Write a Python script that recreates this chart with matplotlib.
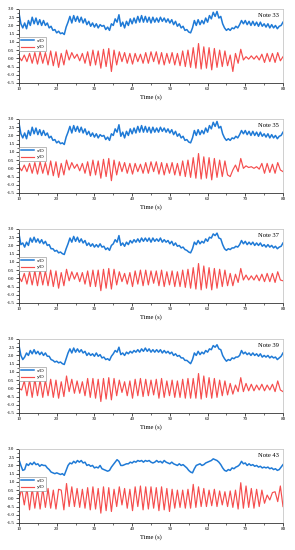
import numpy as np
import matplotlib.pyplot as plt
from matplotlib.ticker import MultipleLocator

plt.rcParams['font.family'] = ['Liberation Serif', 'DejaVu Serif']

notes = ['Note 33', 'Note 35', 'Note 37', 'Note 39', 'Note 43']

# x/D, sampled every 0.5 s from 10 s to 80 s
xd_33 = [2.75, 2.1, 1.85, 2.15, 1.8, 2.3, 2.0, 2.5, 2.1, 2.45, 2.05, 2.35, 2.0, 2.3, 2.0, 2.15,
         1.85, 1.95, 1.7, 1.75, 1.55, 1.65, 1.5, 1.55, 1.45, 1.9, 2.2, 2.55, 2.15, 2.6, 2.25, 2.55,
         2.2, 2.5, 2.15, 2.4, 2.05, 2.25, 1.95, 2.15, 1.9, 2.1, 1.85, 2.05, 1.95, 2.0, 1.75, 1.9,
         1.7, 2.1, 2.0, 2.4, 2.2, 2.65, 1.95, 2.2, 1.85, 2.25, 2.0, 2.4, 2.1, 2.45, 2.15, 2.55,
         2.2, 2.6, 2.2, 2.55, 2.2, 2.5, 2.15, 2.5, 2.2, 2.45, 2.2, 2.5, 2.25, 2.45, 2.2, 2.4,
         2.15, 2.35, 2.05, 2.25, 1.95, 2.1, 1.85, 1.95, 1.7, 1.75, 1.6, 1.55, 1.85, 2.3, 2.0, 2.35,
         2.05, 2.3, 2.1, 2.45, 2.2, 2.6, 2.4, 2.8, 2.55, 2.85, 2.45, 2.55, 2.1, 1.85, 1.7, 1.8,
         1.7, 1.85, 1.8, 1.95, 1.85, 2.05, 2.3, 2.1, 2.3, 2.05, 2.25, 2.0, 2.25, 2.0, 2.2, 1.95,
         2.2, 1.95, 2.1, 1.9, 2.1, 1.85, 2.05, 1.85, 2.0, 1.8, 1.95, 2.0, 2.2]
xd_35 = xd_33
xd_37 = [2.7, 2.05, 2.15, 1.9, 2.2, 2.0, 2.45, 2.2, 2.5, 2.2, 2.4, 2.15, 2.35, 2.1, 2.25, 2.0,
         2.05, 1.8, 1.8, 1.65, 1.7, 1.55, 1.6, 1.5, 1.45, 1.8, 2.1, 2.45, 2.2, 2.55, 2.25, 2.5,
         2.2, 2.4, 2.15, 2.3, 2.0, 2.15, 1.95, 2.1, 1.9, 2.05, 1.9, 2.1, 1.9, 1.95, 1.75, 1.85,
         1.7, 2.0, 2.1, 2.35, 2.2, 2.6, 2.0, 2.15, 1.95, 2.2, 2.05, 2.3, 2.15, 2.35, 2.2, 2.4,
         2.2, 2.45, 2.25, 2.45, 2.25, 2.45, 2.2, 2.45, 2.25, 2.4, 2.25, 2.45, 2.2, 2.35, 2.2, 2.3,
         2.1, 2.25, 2.0, 2.15, 1.95, 2.0, 1.85, 1.9, 1.75, 1.7, 1.6, 1.55, 1.8, 2.2, 2.05, 2.3,
         2.1, 2.25, 2.15, 2.4, 2.25, 2.5, 2.45, 2.7, 2.6, 2.75, 2.45, 2.4, 2.05, 1.8, 1.7, 1.8,
         1.75, 1.85, 1.85, 1.95, 1.9, 2.05, 2.3, 2.1, 2.25, 2.05, 2.2, 2.05, 2.2, 2.0, 2.15, 2.0,
         2.15, 1.95, 2.05, 1.9, 2.05, 1.9, 2.0, 1.85, 1.95, 1.8, 1.9, 1.95, 2.15]
xd_39 = [2.6, 2.0, 1.75, 1.9, 2.15, 2.0, 2.3, 2.1, 2.35, 2.1, 2.25, 2.05, 2.2, 2.0, 2.15, 1.95,
         1.95, 1.75, 1.7, 1.6, 1.65, 1.55, 1.6, 1.5, 1.45, 1.8, 2.15, 2.4, 2.15, 2.45, 2.2, 2.4,
         2.2, 2.35, 2.15, 2.25, 2.0, 2.15, 2.0, 2.1, 1.95, 2.15, 1.95, 2.05, 1.85, 1.9, 1.75, 1.8,
         1.7, 1.95, 2.1, 2.3, 2.2, 2.5, 2.05, 2.15, 2.0, 2.2, 2.1, 2.25, 2.15, 2.3, 2.2, 2.35,
         2.2, 2.4, 2.25, 2.45, 2.25, 2.4, 2.2, 2.35, 2.2, 2.35, 2.2, 2.35, 2.15, 2.3, 2.15, 2.25,
         2.1, 2.2, 2.0, 2.1, 1.95, 2.0, 1.85, 1.85, 1.7, 1.7, 1.6, 1.5, 1.75, 2.15, 2.0, 2.25,
         2.05, 2.2, 2.1, 2.3, 2.2, 2.4, 2.35, 2.6, 2.5, 2.65, 2.4, 2.35, 2.0, 1.8, 1.65, 1.75,
         1.7, 1.85, 1.8, 1.9, 1.9, 2.0, 2.3, 2.1, 2.2, 2.05, 2.15, 2.0, 2.15, 2.0, 2.1, 1.95,
         2.1, 1.9, 2.0, 1.9, 2.0, 1.85, 1.95, 1.85, 1.9, 1.75, 1.85, 1.95, 2.15]
xd_43 = [2.35, 2.0, 1.7, 1.75, 2.1, 2.0, 2.15, 2.05, 2.2, 2.05, 2.1, 1.95, 2.05, 2.0, 2.0, 1.85,
         1.75, 1.6, 1.55, 1.5, 1.55, 1.5, 1.45, 1.5, 1.4, 1.7, 2.0, 2.15, 2.1, 2.25, 2.15, 2.3,
         2.2, 2.3, 2.15, 2.2, 2.0, 2.05, 1.95, 2.0, 1.85, 1.9, 1.85, 2.0, 1.8, 1.75, 1.7, 1.65,
         1.7, 1.9, 2.05, 2.2, 2.35, 2.25, 2.0, 2.0, 2.05, 2.1, 2.1, 2.2, 2.15, 2.25, 2.2, 2.3,
         2.25, 2.3, 2.2, 2.3, 2.25, 2.3, 2.2, 2.15, 2.2, 2.3, 2.2, 2.25, 2.15, 2.3, 2.2, 2.15,
         2.1, 2.2, 2.1, 2.05, 2.0, 2.1, 2.0, 2.05, 1.95, 1.85, 1.7, 1.6, 1.55, 1.8, 2.0, 2.05,
         2.1, 2.0, 2.05, 2.15, 2.2, 2.25, 2.3, 2.4, 2.35, 2.3, 2.2, 2.05, 1.85, 1.7, 1.65, 1.75,
         1.7, 1.85, 1.8, 1.9, 1.95, 2.05, 2.25, 2.1, 2.15, 2.0, 2.1, 2.0, 2.05, 1.95, 2.0, 1.9,
         1.95, 1.85, 1.9, 1.85, 1.9, 1.8, 1.85, 1.75, 1.8, 1.7, 1.75, 1.9, 2.05]

# y/D, peaks and troughs every 0.7 s from 10 s to 80 s
yd_33 = [0.1, -0.15, 0.2, -0.2, 0.3, -0.3, 0.35, -0.35, 0.4, -0.3, 0.35, -0.4, 0.45, -0.45,
         0.4, -0.55, 0.3, -0.4, 0.5, -0.1, 0.35, 0.0, 0.25, -0.15, 0.3, -0.3, 0.4, -0.45, 0.5,
         -0.4, 0.45, -0.6, 0.55, -0.5, 0.6, -0.8, 0.5, -0.4, 0.4, -0.2, 0.35, -0.3, 0.3, -0.35,
         0.3, -0.2, 0.25, -0.3, 0.35, -0.3, 0.4, -0.2, 0.4, -0.35, 0.35, -0.4, 0.3, -0.3, 0.35,
         -0.4, 0.3, -0.45, 0.45, -0.5, 0.5, -0.55, 0.65, -0.6, 0.9, -0.65, 0.7, -0.6, 0.65, -0.7,
         0.6, -0.55, 0.5, -0.5, 0.45, -0.45, 0.2, -0.8, 0.3, -0.3, 0.55, -0.1, 0.1, -0.05, 0.15,
         -0.05, 0.15, -0.1, 0.25, -0.25, 0.3, -0.2, 0.3, -0.25, 0.35, -0.15, 0.1]
yd_35 = [0.1, -0.15, 0.2, -0.2, 0.3, -0.3, 0.35, -0.35, 0.4, -0.3, 0.35, -0.4, 0.45, -0.45,
         0.4, -0.55, 0.3, -0.4, 0.5, -0.1, 0.35, 0.0, 0.25, -0.15, 0.3, -0.3, 0.4, -0.45, 0.5,
         -0.4, 0.45, -0.6, 0.55, -0.5, 0.6, -0.75, 0.5, -0.4, 0.4, -0.2, 0.35, -0.3, 0.3, -0.35,
         0.3, -0.2, 0.25, -0.3, 0.35, -0.3, 0.4, -0.2, 0.4, -0.35, 0.35, -0.4, 0.3, -0.3, 0.35,
         -0.4, 0.3, -0.45, 0.45, -0.5, 0.5, -0.55, 0.65, -0.6, 0.9, -0.65, 0.7, -0.6, 0.65, -0.7,
         0.6, -0.55, 0.5, -0.5, 0.45, -0.4, -0.5, -0.1, 0.2, -0.2, 0.6, 0.0, 0.15, 0.05, 0.1,
         0.0, 0.1, -0.05, 0.3, -0.3, 0.3, -0.25, 0.25, -0.3, 0.35, -0.1, -0.2]
yd_37 = [0.1, -0.2, 0.3, -0.35, 0.4, -0.4, 0.45, -0.45, 0.5, -0.4, 0.45, -0.45, 0.5, -0.5,
         0.45, -0.6, 0.35, -0.45, 0.55, -0.15, 0.4, -0.05, 0.35, -0.2, 0.35, -0.35, 0.45, -0.5,
         0.5, -0.5, 0.5, -0.75, 0.55, -0.6, 0.6, -0.65, 0.55, -0.4, 0.4, -0.2, 0.3, -0.35, 0.35,
         -0.5, 0.45, -0.35, 0.5, -0.45, 0.5, -0.4, 0.45, -0.3, 0.45, -0.45, 0.5, -0.5, 0.4, -0.4,
         0.45, -0.5, 0.4, -0.5, 0.5, -0.55, 0.55, -0.6, 0.65, -0.65, 0.9, -0.7, 0.75, -0.6, 0.65,
         -0.7, 0.6, -0.6, 0.55, -0.5, 0.5, -0.45, 0.3, -0.45, 0.25, -0.25, 0.6, -0.1, 0.2, -0.1,
         0.15, -0.1, 0.2, -0.15, 0.25, -0.2, 0.3, -0.2, 0.3, -0.25, 0.4, -0.1, -0.15]
yd_39 = [0.0, -0.1, 0.45, -0.45, 0.5, -0.55, 0.55, -0.45, 0.5, -0.55, 0.5, -0.45, 0.55, -0.55,
         0.5, -0.6, 0.4, -0.5, 0.75, -0.2, 0.55, -0.3, 0.45, -0.3, 0.4, -0.45, 0.6, -0.55, 0.6,
         -0.6, 0.55, -0.8, 0.6, -0.65, 0.65, -0.7, 0.6, -0.45, 0.5, -0.25, 0.4, -0.45, 0.45, -0.6,
         0.55, -0.45, 0.6, -0.5, 0.55, -0.45, 0.5, -0.4, 0.55, -0.6, 0.6, -0.55, 0.45, -0.45, 0.5,
         -0.55, 0.45, -0.55, 0.55, -0.6, 0.6, -0.6, 0.6, -0.6, 0.9, -0.65, 0.75, -0.55, 0.65, -0.6,
         0.6, -0.55, 0.5, -0.45, 0.45, -0.4, 0.3, -0.35, 0.2, -0.2, 0.65, -0.2, 0.3, -0.15, 0.25,
         -0.15, 0.2, -0.1, 0.25, -0.15, 0.2, -0.1, 0.25, -0.2, 0.45, -0.1, -0.2]
yd_43 = [-0.1, 0.6, -0.4, 0.6, -0.7, 0.6, -0.6, 0.55, -0.65, 0.6, -0.55, 0.6, -0.6, 0.5,
         -0.65, 0.55, 0.5, -0.7, 0.9, -0.5, 0.7, -0.5, 0.6, -0.55, 0.55, -0.6, 0.65, -0.7, 0.7,
         -0.65, 0.6, -0.9, 0.7, -0.75, 0.65, -0.8, 0.55, -0.5, 0.7, -0.4, 0.6, -0.6, 0.55, -0.75,
         0.7, -0.5, 0.75, -0.7, 0.7, -0.65, 0.7, -0.6, 0.65, -0.75, 0.7, -0.7, 0.6, -0.8, 0.55,
         -0.6, 0.5, -0.55, 0.5, -0.6, 0.55, -0.6, 0.85, -0.55, 0.7, -0.5, 0.6, -0.5, 0.5, -0.45,
         0.55, -0.5, 0.45, -0.4, 0.4, -0.5, 0.45, -0.55, 0.5, -0.65, 0.95, -0.6, 0.75, -0.55, 0.6,
         -0.6, 0.55, -0.5, 0.5, -0.3, 0.2, -0.1, 0.35, 0.4, -0.2, 0.75, -0.5]

xd_all = [xd_33, xd_35, xd_37, xd_39, xd_43]
yd_all = [yd_33, yd_35, yd_37, yd_39, yd_43]

fig = plt.figure(figsize=(2.95, 5.5), dpi=100)
W, H = 295, 550

for k in range(5):
    top = 9 + 110 * k
    ax = fig.add_axes([19 / W, 1 - (top + 74) / H, 264 / W, 74 / H])
    tx = np.linspace(10, 80, len(xd_all[k]))
    ty = np.linspace(10, 80, len(yd_all[k]))
    ax.plot(tx, xd_all[k], color='#1f7ad6', lw=1.1, label='x/D')
    ax.plot(ty, yd_all[k], color='#f54d4d', lw=0.85, label='y/D')

    ax.set_xlim(10, 80)
    ax.set_ylim(-1.5, 3.0)
    ax.xaxis.set_major_locator(MultipleLocator(10))
    ax.xaxis.set_minor_locator(MultipleLocator(5))
    ax.yaxis.set_major_locator(MultipleLocator(0.5))
    ax.yaxis.set_minor_locator(MultipleLocator(0.25))
    ax.tick_params(which='major', direction='out', length=2, width=0.5, labelsize=3.6, pad=1.2)
    ax.tick_params(which='minor', direction='out', length=1.2, width=0.4)
    ax.set_yticklabels([f'{v:.1f}' for v in ax.get_yticks()])
    for s in ['left', 'bottom']:
        ax.spines[s].set_linewidth(0.6)
        ax.spines[s].set_color('#333333')
    for s in ['top', 'right']:
        ax.spines[s].set_linewidth(0.6)
        ax.spines[s].set_color('#c8c8c8')

    ax.set_xlabel('Time (s)', fontsize=4.7, labelpad=2)
    ax.text(0.985, 0.91, notes[k], transform=ax.transAxes, ha='right', va='center', fontsize=4.7)
    leg = ax.legend(loc='upper left', bbox_to_anchor=(0, 0.627), borderaxespad=0,
                    fontsize=3.7, handlelength=2.6, handletextpad=0.5, labelspacing=0.35,
                    borderpad=0.35, fancybox=False, framealpha=1)
    leg.get_frame().set_linewidth(0.4)
    leg.get_frame().set_edgecolor('#888888')

fig.savefig('out.png', dpi=100)
